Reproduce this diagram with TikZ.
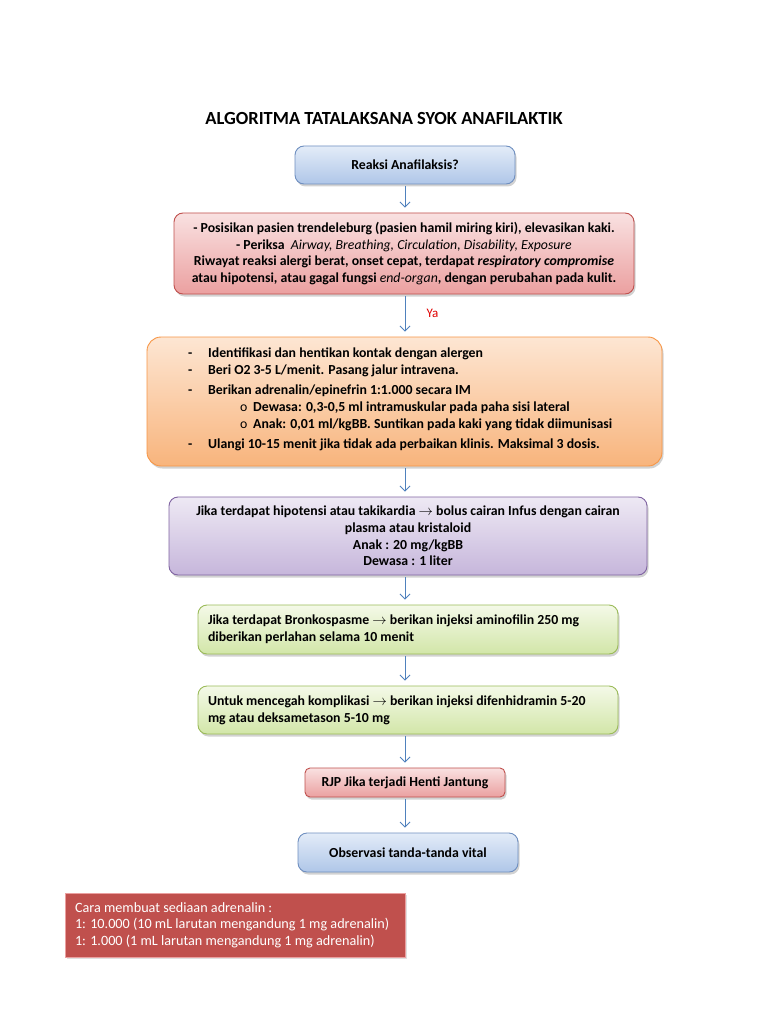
\documentclass[tikz,border=0pt]{standalone}
\usepackage{fontspec}
\setmainfont{Carlito}
\usetikzlibrary{arrows.meta,shadows}
\definecolor{bluetop}{HTML}{E3ECF8}
\definecolor{bluebot}{HTML}{AFC6E8}
\definecolor{bluebd}{HTML}{6F8FC0}
\definecolor{redtop}{HTML}{F9E1E1}
\definecolor{redbot}{HTML}{EBA0A0}
\definecolor{redbd}{HTML}{C0504D}
\definecolor{orgtop}{HTML}{FDE6D3}
\definecolor{orgbot}{HTML}{F8B47C}
\definecolor{orgbd}{HTML}{F79646}
\definecolor{purtop}{HTML}{EEE9F4}
\definecolor{purbot}{HTML}{C6B6DB}
\definecolor{purbd}{HTML}{8064A2}
\definecolor{grntop}{HTML}{F4F9E8}
\definecolor{grnbot}{HTML}{D2E6A8}
\definecolor{grnbd}{HTML}{9BBB59}
\definecolor{darkred}{HTML}{C0504D}
\definecolor{arrowc}{HTML}{4F81BD}
\definecolor{yared}{HTML}{E00000}
\tikzset{
  box/.style={draw, line width=0.9pt, rounded corners=9pt, inner sep=0pt,
    drop shadow={opacity=0.35, shadow xshift=1.5pt, shadow yshift=-2.5pt}},
  bluebox/.style={box, draw=bluebd, top color=bluetop, bottom color=bluebot},
  redbox/.style={box, draw=redbd, top color=redtop, bottom color=redbot},
  orgbox/.style={box, draw=orgbd, top color=orgtop, bottom color=orgbot},
  purbox/.style={box, draw=purbd, top color=purtop, bottom color=purbot},
  grnbox/.style={box, draw=grnbd, top color=grntop, bottom color=grnbot},
  txt/.style={font=\bfseries\fontsize{13.8}{16.7}\selectfont, align=center},
  ltxt/.style={font=\bfseries\fontsize{13.8}{16.7}\selectfont, align=flush left},
  flow/.style={draw=arrowc, line width=0.8pt, -{Straight Barb[length=5pt,width=10pt]},
    shorten <=2pt, shorten >=5pt},
}
\begin{document}
\begin{tikzpicture}[x=1pt,y=-1pt]
\useasboundingbox[fill=white] (0,0) rectangle (768,1024);

\node[font=\bfseries\fontsize{18.5}{20}\selectfont] (title) at (384,118) {ALGORITMA TATALAKSANA SYOK ANAFILAKTIK};

\node[bluebox, txt, minimum width=220pt, minimum height=38pt] (b1) at (405,165) {Reaksi Anafilaksis?};

\node[redbox, txt, minimum width=460pt, minimum height=81pt] (b2) at (404,253.5)
  {- Posisikan pasien trendeleburg (pasien hamil miring kiri), elevasikan kaki.\\
   - Periksa \textmd{\itshape\ Airway, Breathing, Circulation, Disability, Exposure}\\
   Riwayat reaksi alergi berat, onset cepat, terdapat \textit{respiratory compromise}\\
   atau hipotensi, atau gagal fungsi \textmd{\itshape end-organ}, dengan perubahan pada kulit.};

\node[orgbox, rounded corners=14pt, minimum width=515pt, minimum height=129pt] (b3) at (404.5,401.5) {};
\node[font=\bfseries\fontsize{13.8}{16.7}\selectfont, align=left, anchor=north west, inner sep=0pt] (b3t) at (188,348)
  {\makebox[20pt][l]{-}Identifikasi dan hentikan kontak dengan alergen\\
   \makebox[20pt][l]{-}Beri O2 3-5 L/menit. Pasang jalur intravena.\\[3.5pt]
   \makebox[20pt][l]{-}Berikan adrenalin/epinefrin 1:1.000 secara IM\\
   \hspace*{52pt}\makebox[13pt][l]{\textmd{o}}Dewasa: 0,3-0,5 ml intramuskular pada paha sisi lateral\\
   \hspace*{52pt}\makebox[13pt][l]{\textmd{o}}Anak: 0,01 ml/kgBB. Suntikan pada kaki yang tidak diimunisasi\\[3.5pt]
   \makebox[20pt][l]{-}Ulangi 10-15 menit jika tidak ada perbaikan klinis. Maksimal 3 dosis.};

\node[purbox, txt, minimum width=478pt, minimum height=78pt] (b4) at (408,536)
  {Jika terdapat hipotensi atau takikardia $\rightarrow$ bolus cairan Infus dengan cairan\\
   plasma atau kristaloid\\ Anak : 20 mg/kgBB\\ Dewasa : 1 liter};

\node[grnbox, ltxt, text width=400pt, inner xsep=10pt, minimum height=49pt] (b5) at (408,629.5)
  {Jika terdapat Bronkospasme $\rightarrow$ berikan injeksi aminofilin 250 mg\\
   diberikan perlahan selama 10 menit};

\node[grnbox, ltxt, text width=400pt, inner xsep=10pt, minimum height=48pt] (b6) at (408,710)
  {Untuk mencegah komplikasi $\rightarrow$ berikan injeksi difenhidramin 5-20\\
   mg atau deksametason 5-10 mg};

\node[redbox, txt, rounded corners=5pt, minimum width=200pt, minimum height=29pt] (b7) at (405,782.5)
  {RJP Jika terjadi Henti Jantung};

\node[bluebox, txt, minimum width=220pt, minimum height=39pt] (b8) at (408,852.5)
  {Observasi tanda-tanda vital};

\node[draw=redbot, line width=0.8pt, fill=darkred, text=white, align=flush left,
  font=\fontsize{14.2}{16.7}\selectfont, text width=320pt, inner xsep=10pt,
  minimum height=64pt, drop shadow={opacity=0.25, shadow xshift=1.5pt, shadow yshift=-2pt}] (b9) at (235,925)
  {Cara membuat sediaan adrenalin :\\
   1: 10.000 (10 mL larutan mengandung 1 mg adrenalin)\\
   1: 1.000 (1 mL larutan mengandung 1 mg adrenalin)};

\coordinate (ax) at (405,0);
\draw[flow] (b1.south -| ax) -- (b2.north -| ax);
\draw[flow] (b2.south -| ax) -- node[pos=0.45, right=18pt, text=yared, font=\fontsize{13}{15}\selectfont] (ya) {Ya} (b3.north -| ax);
\draw[flow] (b3.south -| ax) -- (b4.north -| ax);
\draw[flow] (b4.south -| ax) -- (b5.north -| ax);
\draw[flow] (b5.south -| ax) -- (b6.north -| ax);
\draw[flow] (b6.south -| ax) -- (b7.north -| ax);
\draw[flow] (b7.south -| ax) -- (b8.north -| ax);
\end{tikzpicture}
\end{document}
